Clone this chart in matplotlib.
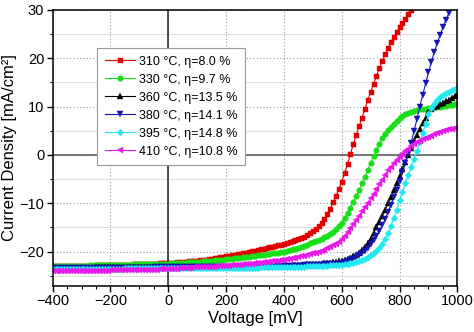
import numpy as np
import matplotlib
matplotlib.use("Agg")
import matplotlib.pyplot as plt
from matplotlib.ticker import MultipleLocator

plt.rcParams["font.family"] = ["Liberation Sans", "DejaVu Sans"]

# voltage grid of the measurement (mV), 10 mV steps
voltage = np.arange(-400, 1001, 10)

# current density (mA/cm^2)
j_310 = [
    -23.0, -23.0, -23.0, -23.0, -22.9, -22.9, -22.9, -22.9, -22.9, -22.9,
    -22.9, -22.9, -22.9, -22.9, -22.9, -22.8, -22.8, -22.8, -22.8, -22.8,
    -22.8, -22.8, -22.8, -22.7, -22.7, -22.7, -22.7, -22.7, -22.6, -22.6,
    -22.6, -22.6, -22.6, -22.5, -22.5, -22.5, -22.5, -22.4, -22.4, -22.4,
    -22.4, -22.3, -22.3, -22.2, -22.2, -22.1, -22.1, -22.0, -22.0, -21.9,
    -21.9, -21.8, -21.7, -21.7, -21.6, -21.5, -21.4, -21.3, -21.2, -21.1,
    -21.0, -20.9, -20.8, -20.7, -20.6, -20.5, -20.4, -20.2, -20.1, -19.9,
    -19.8, -19.7, -19.5, -19.4, -19.3, -19.1, -19.0, -18.9, -18.7, -18.6,
    -18.5, -18.3, -18.1, -17.9, -17.7, -17.5, -17.2, -16.9, -16.6, -16.2,
    -15.8, -15.3, -14.7, -14.1, -13.3, -12.3, -11.1, -9.8, -8.5, -7.1,
    -5.6, -3.8, -1.9, 0.2, 2.2, 4.1, 5.9, 7.7, 9.5, 11.3,
    13.0, 14.7, 16.3, 17.9, 19.4, 20.8, 22.1, 23.3, 24.4, 25.4,
    26.4, 27.3, 28.2, 29.1, 29.9, 30.7,
]
j_330 = [
    -23.0, -23.0, -23.0, -23.0, -23.0, -22.9, -22.9, -22.9, -22.9, -22.9,
    -22.9, -22.9, -22.9, -22.8, -22.8, -22.8, -22.8, -22.8, -22.8, -22.8,
    -22.8, -22.7, -22.7, -22.7, -22.7, -22.7, -22.7, -22.7, -22.6, -22.6,
    -22.6, -22.6, -22.6, -22.6, -22.6, -22.5, -22.5, -22.5, -22.5, -22.5,
    -22.5, -22.4, -22.4, -22.4, -22.3, -22.3, -22.3, -22.2, -22.2, -22.2,
    -22.1, -22.1, -22.0, -22.0, -21.9, -21.9, -21.8, -21.8, -21.7, -21.7,
    -21.6, -21.6, -21.5, -21.4, -21.4, -21.3, -21.2, -21.2, -21.1, -21.0,
    -20.9, -20.8, -20.8, -20.7, -20.6, -20.5, -20.4, -20.3, -20.2, -20.1,
    -20.0, -19.8, -19.7, -19.5, -19.4, -19.2, -19.0, -18.8, -18.6, -18.3,
    -18.1, -17.9, -17.6, -17.3, -17.0, -16.7, -16.3, -15.9, -15.4, -14.8,
    -14.0, -13.0, -12.0, -10.9, -9.8, -8.6, -7.3, -5.9, -4.5, -3.1,
    -1.6, -0.2, 1.1, 2.3, 3.4, 4.3, 5.1, 5.8, 6.5, 7.1,
    7.6, 8.0, 8.4, 8.7, 8.9, 9.1, 9.3, 9.4, 9.5, 9.6,
    9.7, 9.8, 9.9, 10.0, 10.0, 10.1, 10.2, 10.3, 10.4, 10.5,
    10.6,
]
j_360 = [
    -23.4, -23.4, -23.4, -23.4, -23.4, -23.4, -23.4, -23.4, -23.4, -23.4,
    -23.4, -23.4, -23.4, -23.4, -23.4, -23.3, -23.3, -23.3, -23.3, -23.3,
    -23.3, -23.3, -23.3, -23.3, -23.3, -23.3, -23.3, -23.3, -23.3, -23.3,
    -23.3, -23.3, -23.3, -23.3, -23.3, -23.2, -23.2, -23.2, -23.2, -23.2,
    -23.2, -23.2, -23.2, -23.2, -23.2, -23.2, -23.2, -23.2, -23.2, -23.2,
    -23.2, -23.2, -23.2, -23.2, -23.2, -23.1, -23.1, -23.1, -23.1, -23.1,
    -23.1, -23.1, -23.1, -23.1, -23.1, -23.1, -23.1, -23.1, -23.1, -23.1,
    -23.1, -23.1, -23.0, -23.0, -23.0, -23.0, -23.0, -23.0, -22.9, -22.9,
    -22.9, -22.9, -22.9, -22.8, -22.8, -22.8, -22.7, -22.7, -22.6, -22.6,
    -22.6, -22.6, -22.5, -22.5, -22.4, -22.3, -22.3, -22.2, -22.1, -22.0,
    -21.9, -21.7, -21.5, -21.3, -21.0, -20.7, -20.2, -19.6, -19.0, -18.2,
    -17.3, -16.2, -15.0, -13.9, -12.7, -11.4, -10.0, -8.7, -7.3, -5.8,
    -4.4, -2.9, -1.4, 0.0, 1.4, 2.8, 4.1, 5.4, 6.6, 7.7,
    8.8, 9.4, 9.9, 10.2, 10.5, 10.8, 11.1, 11.4, 11.8, 12.1,
    12.4,
]
j_380 = [
    -23.5, -23.5, -23.5, -23.5, -23.5, -23.5, -23.5, -23.5, -23.5, -23.5,
    -23.5, -23.5, -23.5, -23.5, -23.5, -23.4, -23.4, -23.4, -23.4, -23.4,
    -23.4, -23.4, -23.4, -23.4, -23.4, -23.4, -23.4, -23.4, -23.4, -23.4,
    -23.4, -23.4, -23.4, -23.4, -23.4, -23.3, -23.3, -23.3, -23.3, -23.3,
    -23.3, -23.3, -23.3, -23.3, -23.3, -23.3, -23.3, -23.3, -23.3, -23.3,
    -23.3, -23.3, -23.3, -23.3, -23.3, -23.2, -23.2, -23.2, -23.2, -23.2,
    -23.2, -23.2, -23.2, -23.2, -23.2, -23.2, -23.2, -23.2, -23.2, -23.2,
    -23.2, -23.2, -23.1, -23.1, -23.1, -23.1, -23.1, -23.1, -23.0, -23.0,
    -23.0, -23.0, -23.0, -22.9, -22.9, -22.9, -22.9, -22.8, -22.8, -22.8,
    -22.7, -22.7, -22.7, -22.7, -22.6, -22.6, -22.6, -22.5, -22.5, -22.5,
    -22.4, -22.2, -22.0, -21.8, -21.5, -21.2, -20.8, -20.3, -19.8, -19.2,
    -18.5, -17.7, -16.8, -15.8, -14.6, -13.3, -11.8, -10.3, -8.8, -7.2,
    -5.5, -3.6, -1.7, 0.2, 2.5, 4.9, 7.5, 10.0, 12.4, 14.8,
    17.1, 19.3, 21.3, 23.1, 24.8, 26.4, 27.9, 29.3, 30.6, 31.9,
    33.1,
]
j_395 = [
    -23.6, -23.6, -23.6, -23.6, -23.6, -23.6, -23.6, -23.6, -23.6, -23.6,
    -23.6, -23.6, -23.6, -23.6, -23.6, -23.6, -23.6, -23.6, -23.6, -23.6,
    -23.6, -23.6, -23.6, -23.6, -23.6, -23.5, -23.5, -23.5, -23.5, -23.5,
    -23.5, -23.5, -23.5, -23.5, -23.5, -23.5, -23.5, -23.5, -23.5, -23.5,
    -23.5, -23.5, -23.5, -23.5, -23.5, -23.5, -23.5, -23.5, -23.5, -23.5,
    -23.5, -23.5, -23.5, -23.5, -23.5, -23.4, -23.4, -23.4, -23.4, -23.4,
    -23.4, -23.4, -23.4, -23.4, -23.4, -23.4, -23.4, -23.4, -23.4, -23.4,
    -23.4, -23.4, -23.3, -23.3, -23.3, -23.3, -23.3, -23.2, -23.2, -23.2,
    -23.2, -23.2, -23.2, -23.1, -23.1, -23.1, -23.1, -23.1, -23.0, -23.0,
    -23.0, -23.0, -23.0, -22.9, -22.9, -22.9, -22.8, -22.8, -22.8, -22.7,
    -22.7, -22.6, -22.5, -22.4, -22.3, -22.2, -22.0, -21.8, -21.5, -21.2,
    -20.8, -20.3, -19.9, -19.2, -18.4, -17.4, -16.2, -14.8, -13.1, -11.3,
    -9.4, -7.6, -5.9, -4.2, -2.5, -0.8, 0.8, 2.6, 4.5, 6.5,
    8.5, 9.7, 10.6, 11.3, 11.9, 12.4, 12.8, 13.1, 13.4, 13.6,
    13.8,
]
j_410 = [
    -24.1, -24.1, -24.1, -24.1, -24.1, -24.0, -24.0, -24.0, -24.0, -24.0,
    -24.0, -24.0, -24.0, -24.0, -24.0, -24.0, -24.0, -24.0, -24.0, -24.0,
    -23.9, -23.9, -23.9, -23.9, -23.9, -23.9, -23.9, -23.9, -23.9, -23.9,
    -23.9, -23.9, -23.8, -23.8, -23.8, -23.8, -23.8, -23.7, -23.7, -23.7,
    -23.7, -23.6, -23.6, -23.6, -23.5, -23.5, -23.5, -23.4, -23.4, -23.3,
    -23.3, -23.3, -23.2, -23.2, -23.2, -23.1, -23.1, -23.0, -23.0, -23.0,
    -22.9, -22.9, -22.8, -22.8, -22.7, -22.7, -22.6, -22.6, -22.5, -22.5,
    -22.4, -22.4, -22.3, -22.2, -22.2, -22.1, -22.0, -21.9, -21.9, -21.8,
    -21.7, -21.6, -21.5, -21.4, -21.3, -21.2, -21.0, -20.9, -20.7, -20.5,
    -20.4, -20.2, -20.0, -19.8, -19.6, -19.3, -19.0, -18.7, -18.4, -18.0,
    -17.4, -16.7, -16.0, -15.2, -14.4, -13.5, -12.6, -11.7, -10.8, -9.9,
    -9.0, -8.1, -7.1, -6.1, -5.1, -4.1, -3.2, -2.4, -1.7, -1.0,
    -0.4, 0.2, 0.8, 1.3, 1.8, 2.2, 2.6, 2.9, 3.2, 3.5,
    3.8, 4.0, 4.3, 4.5, 4.7, 4.9, 5.1, 5.3, 5.4, 5.6,
    5.7,
]

labels = [
    "310 °C, η=8.0 %",
    "330 °C, η=9.7 %",
    "360 °C, η=13.5 %",
    "380 °C, η=14.1 %",
    "395 °C, η=14.8 %",
    "410 °C, η=10.8 %",
]
series = [j_310, j_330, j_360, j_380, j_395, j_410]
colors = ["#e00000", "#18e018", "#000000", "#1414b4", "#20e8f0", "#e818e8"]
markers = ["s", "o", "^", "v", "D", "<"]
msizes = [3.6, 4.0, 4.2, 4.2, 3.4, 4.2]

fig = plt.figure(figsize=(4.74, 3.32), dpi=100)
ax = fig.add_axes([0.111, 0.139, 0.854, 0.831])

for j, lab, c, m, ms in zip(series, labels, colors, markers, msizes):
    ax.plot(voltage[:len(j)], j, color=c, marker=m, markersize=ms,
            markeredgewidth=0.3, linewidth=0.8, label=lab)

ax.set_xlim(-400, 1000)
ax.set_ylim(-27.1, 30)
ax.xaxis.set_major_locator(MultipleLocator(200))
ax.xaxis.set_minor_locator(MultipleLocator(50))
ax.yaxis.set_major_locator(MultipleLocator(10))
ax.yaxis.set_minor_locator(MultipleLocator(5))

# grid: dotted majors, faint solid minors on y
ax.grid(which="major", color="#999999", linestyle=(0, (1, 2)), linewidth=0.8)
ax.grid(which="minor", axis="y", color="#e0e0e0", linestyle="-", linewidth=0.8)
ax.set_axisbelow(True)
ax.axhline(0, color="#555555", linewidth=1.1, zorder=1.5)
ax.axvline(0, color="#222222", linewidth=1.1, zorder=1.5)

for s in ax.spines.values():
    s.set_linewidth(1.1)
ax.tick_params(which="major", direction="out", length=4, width=1.0,
               labelsize=10.5, pad=2)
ax.tick_params(which="minor", direction="out", length=2.5, width=0.8)
ax.tick_params(top=False, right=False)

ax.set_xlabel("Voltage [mV]", fontsize=12, labelpad=2)
ax.set_ylabel("Current Density [mA/cm²]", fontsize=12, labelpad=2)

leg = ax.legend(loc="upper left", bbox_to_anchor=(0.110, 0.861),
                borderaxespad=0, fontsize=9, numpoints=1,
                handlelength=2.4, handletextpad=0.35, labelspacing=0.48,
                borderpad=0.6, fancybox=False, framealpha=1,
                edgecolor="#999999")
leg.get_frame().set_linewidth(0.8)
leg.set_zorder(5)

fig.savefig("out.png", dpi=100)
